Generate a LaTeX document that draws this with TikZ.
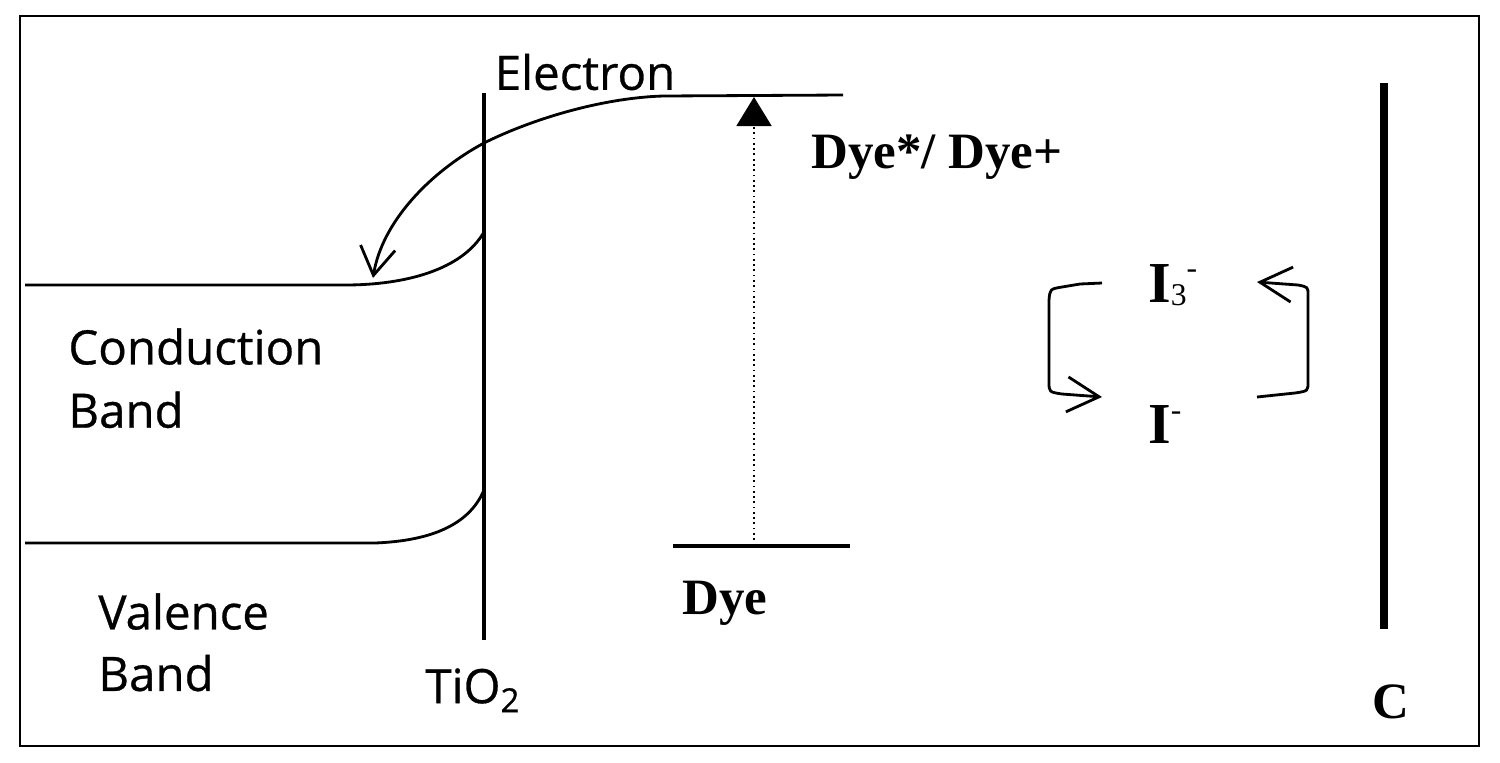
\documentclass[tikz,border=0pt]{standalone}
\usepackage{fontspec}
\setmainfont{Liberation Serif}
\newfontfamily\comic[FakeBold=0.6]{Open Sans}
\usetikzlibrary{arrows.meta}
\begin{document}
\begin{tikzpicture}[x=0.02cm,y=-0.02cm,
  thinline/.style={line width=1.6pt},
  hand/.style={font=\comic\fontsize{27}{34}\selectfont, inner sep=0pt, align=left},
  serifbold/.style={font=\bfseries\fontsize{29}{34}\selectfont, inner sep=0pt},
  ion/.style={font=\bfseries\fontsize{33}{36}\selectfont, inner sep=0pt},
  barb/.style={-{Straight Barb[length=0.56cm,width=0.7cm,line width=1.6pt]}},
  cyclebarb/.style={-{Straight Barb[length=0.64cm,width=0.7cm,line width=1.6pt]}},
]
\useasboundingbox (0,0) rectangle (1500,762);
\draw[line width=1.2pt] (20,16) rectangle (1479,746);

% TiO2 interface
\coordinate (tioTop) at (484,93);
\coordinate (tioBot) at (484,640);
\draw[line width=2pt] (tioTop) -- (tioBot);

% conduction band
\coordinate (cbL) at (25,285);
\coordinate (cbK) at (345,285);
\coordinate (cbE) at (484,232);
\draw[thinline] (cbL) -- (cbK) .. controls (405,285) and (462,270) .. (cbE);

% valence band
\coordinate (vbL) at (25,543);
\coordinate (vbK) at (375,543);
\coordinate (vbE) at (484,490);
\draw[thinline] (vbL) -- (vbK) .. controls (425,541) and (468,528) .. (vbE);

% excited dye level and electron injection
\coordinate (lumoR) at (843,95);
\coordinate (lumoL) at (663,96);
\coordinate (cross) at (484,143);
\coordinate (cbTip) at (373,278);
\draw[thinline, barb] (lumoR) -- (lumoL) .. controls (600,98) and (530,120) .. (cross)
  .. controls (430,172) and (382,222) .. (cbTip);

% dye ground level and excitation
\coordinate (dyeL) at (673,546);
\coordinate (dyeR) at (850,546);
\draw[line width=1.9pt] (dyeL) -- (dyeR);
\coordinate (excB) at (754,540);
\coordinate (excT) at (754,97);
\draw[line width=1pt, dotted, -{Triangle[length=0.58cm,width=0.7cm]}] (excB) -- (excT);

% counter electrode
\coordinate (cTop) at (1384,83);
\coordinate (cBot) at (1384,629);
\draw[line width=5pt] (cTop) -- (cBot);

% labels
\node[hand] (electron) at (585,72) {Electron};
\node[hand, anchor=north west] (cb) at (68,328) {Conduction\\[2pt]Band};
\node[hand, anchor=north west] (vb) at (98,593) {Valence\\[1pt]Band};
\node[hand, anchor=north west] (tio) at (425,668) {TiO\textsubscript{2}};
\node[serifbold] (dyestar) at (937,157) {Dye*/ Dye+};
\node[serifbold] (dye) at (725,603) {Dye};
\node[serifbold] (c) at (1391,702) {C};

% redox couple
\node[ion, anchor=west] (i3) at (1148,285) {I\mdseries\fontsize{18}{18}\selectfont\raisebox{-0.1em}{3}\raisebox{0.75em}{-}};
\node[ion, anchor=west] (i1) at (1148,425) {I\mdseries\fontsize{18}{18}\selectfont\raisebox{0.75em}{-}};

\coordinate (a1) at (1102,283);
\coordinate (a2) at (1102,397);
\draw[thinline, cyclebarb] (a1) -- (1080,284) -- (1062,287) .. controls (1050,289) .. (1049,300)
  -- (1049,382) .. controls (1049,392) .. (1062,394) -- (a2);
\coordinate (b1) at (1257,397);
\coordinate (b2) at (1257,282);
\draw[thinline, cyclebarb] (b1) -- (1295,393) .. controls (1308,391) .. (1308,382)
  -- (1308,295) .. controls (1308,287) .. (1298,285) -- (b2);
\end{tikzpicture}
\end{document}
